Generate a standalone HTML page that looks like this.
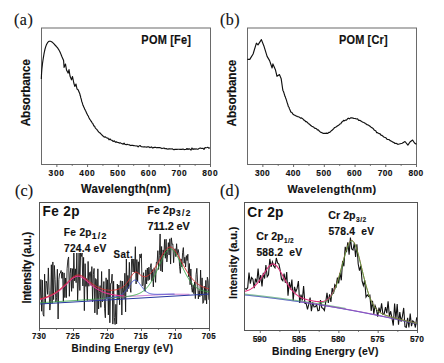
<!DOCTYPE html>
<html><head><meta charset="utf-8"><style>
html,body{margin:0;padding:0;background:#fff;width:444px;height:363px;overflow:hidden}
svg{display:block}

</style></head><body>
<svg width="444" height="363" viewBox="0 0 444 363">
<rect width="444" height="363" fill="#fff"/>
<rect x="41.5" y="28" width="169.0" height="136.5" fill="none" stroke="#6a6a6a" stroke-width="1"/>
<path d="M56.86,164.5 v2.5 M72.23,164.5 v1.3 M87.59,164.5 v2.5 M102.95,164.5 v1.3 M118.32,164.5 v2.5 M133.68,164.5 v1.3 M149.05,164.5 v2.5 M164.41,164.5 v1.3 M179.77,164.5 v2.5 M195.14,164.5 v1.3 M210.50,164.5 v2.5 " stroke="#555" stroke-width="0.9" fill="none"/>
<path d="M41.30,79.00 L41.33,78.40 L41.36,77.62 L41.40,76.70 L41.45,75.67 L41.50,74.56 L41.56,73.41 L41.63,72.24 L41.71,71.09 L41.80,70.00 L41.89,69.04 L41.99,68.06 L42.09,67.07 L42.20,66.07 L42.32,65.06 L42.44,64.05 L42.57,63.03 L42.71,62.02 L42.85,61.00 L43.00,60.00 L43.15,58.98 L43.32,57.94 L43.49,56.87 L43.67,55.81 L43.85,54.75 L44.04,53.71 L44.23,52.71 L44.42,51.74 L44.61,50.84 L44.80,50.00 L45.12,48.73 L45.44,47.59 L45.76,46.55 L46.10,45.61 L46.44,44.77 L46.80,44.00 L47.56,42.70 L48.36,41.75 L49.20,41.20 L50.56,41.24 L52.00,42.00 L52.74,42.59 L53.50,43.35 L54.26,44.18 L55.00,45.00 L55.73,45.77 L56.45,46.55 L57.15,47.35 L57.80,48.20 L58.40,49.08 L58.95,49.99 L59.48,50.95 L60.00,52.00 L60.44,53.00 L60.91,54.15 L61.35,55.30 L61.73,56.30 L63.60,60.60 L64.10,67.40 L65.50,64.00 L66.50,70.00 L68.20,73.10 L69.00,69.50 L70.00,76.00 L71.50,79.80 L72.50,76.50 L73.80,83.00 L74.80,86.40 L76.00,84.00 L77.00,89.00 L78.10,89.70 L79.80,93.80 L79.97,94.45 L80.19,95.63 L80.45,95.97 L80.74,97.66 L81.05,98.45 L81.37,99.64 L81.70,101.44 L82.01,102.00 L82.30,102.89 L82.66,104.22 L83.03,105.39 L83.41,106.05 L83.78,107.18 L84.14,107.61 L84.48,108.62 L84.80,109.37 L85.19,110.04 L85.44,110.58 L85.83,111.30 L86.60,113.13 L86.95,113.79 L87.33,114.47 L87.76,115.39 L88.22,115.84 L88.71,117.14 L89.23,118.19 L89.76,119.33 L90.32,119.85 L90.89,120.98 L91.46,121.47 L92.04,122.88 L92.62,123.28 L93.20,124.37 L93.84,126.04 L94.52,125.96 L95.24,127.79 L95.97,128.57 L96.71,129.29 L97.46,130.41 L98.20,131.29 L98.92,132.27 L99.62,132.66 L100.29,133.27 L100.92,133.93 L101.50,134.40 L102.62,135.76 L103.46,136.22 L104.24,137.26 L105.15,136.83 L106.40,137.67 L107.19,138.10 L108.08,138.17 L109.03,139.80 L110.04,138.95 L111.09,140.03 L112.16,140.40 L113.25,141.48 L114.32,140.79 L115.38,142.08 L116.40,141.88 L117.38,142.35 L118.33,142.46 L119.26,143.09 L120.18,142.77 L121.12,143.29 L122.07,143.61 L123.05,144.24 L124.08,143.16 L125.16,144.54 L126.30,144.58 L127.24,144.33 L128.25,144.76 L129.30,144.72 L130.39,145.56 L131.51,145.33 L132.64,145.40 L133.77,145.59 L134.90,145.79 L136.01,145.98 L137.08,145.93 L138.11,146.97 L139.09,145.91 L140.00,145.52 L141.17,146.68 L142.18,146.75 L143.09,146.95 L143.94,146.79 L144.78,146.81 L145.66,146.96 L146.62,147.16 L147.72,146.78 L149.00,146.89 L149.81,147.65 L150.67,147.30 L151.58,146.92 L152.53,148.01 L153.52,147.64 L154.53,147.33 L155.57,147.25 L156.62,147.80 L157.69,147.57 L158.77,147.61 L159.84,147.64 L160.91,147.98 L161.96,148.57 L163.00,148.20 L164.01,147.98 L165.00,148.70 L166.03,148.60 L167.05,148.92 L168.06,149.12 L169.07,148.79 L170.07,148.88 L171.07,148.99 L172.07,148.75 L173.06,149.36 L174.05,149.64 L175.04,149.35 L176.03,149.28 L177.02,149.33 L178.01,149.21 L179.00,149.24 L180.00,149.38 L181.00,149.26 L182.00,149.38 L183.00,149.03 L184.00,149.59 L185.00,149.48 L186.00,149.50 L187.00,148.53 L188.00,149.48 L189.00,148.60 L190.00,149.29 L191.00,150.08 L192.00,147.95 L193.00,149.46 L194.00,148.71 L195.00,149.32 L196.03,148.79 L197.12,149.22 L198.24,149.10 L199.39,148.29 L200.56,148.03 L201.72,148.53 L202.87,148.24 L204.00,149.35 L205.08,147.67 L206.11,147.80 L207.08,147.54 L207.96,147.28 L208.75,148.24 L209.44,147.99 L210.00,147.93" stroke="#111" stroke-width="1.15" fill="none" stroke-linejoin="round"/>
<rect x="247.5" y="28" width="169.0" height="136.5" fill="none" stroke="#6a6a6a" stroke-width="1"/>
<path d="M262.86,164.5 v2.5 M278.23,164.5 v1.3 M293.59,164.5 v2.5 M308.95,164.5 v1.3 M324.32,164.5 v2.5 M339.68,164.5 v1.3 M355.05,164.5 v2.5 M370.41,164.5 v1.3 M385.77,164.5 v2.5 M401.14,164.5 v1.3 M416.50,164.5 v2.5 " stroke="#555" stroke-width="0.9" fill="none"/>
<path d="M247.30,59.40 L249.80,59.40 L253.10,54.00 L256.40,43.20 L258.00,44.90 L261.40,39.60 L263.80,45.70 L267.10,56.40 L269.60,60.60 L272.10,68.00 L272.90,63.90 L275.40,69.70 L277.00,76.30 L279.50,74.60 L281.20,78.80 L282.80,90.01 L283.06,90.75 L283.47,91.45 L284.10,93.41 L284.35,94.31 L284.63,95.01 L284.94,96.31 L285.28,96.60 L285.62,97.96 L285.98,98.83 L286.35,99.91 L286.71,101.17 L287.06,102.32 L287.40,103.33 L287.81,104.49 L288.20,106.13 L288.60,106.83 L288.99,107.18 L289.40,108.75 L289.81,109.48 L290.24,110.42 L290.70,111.79 L291.44,112.46 L292.20,112.86 L293.00,114.33 L293.89,114.85 L294.90,115.25 L295.70,115.73 L296.56,116.13 L297.47,116.57 L298.43,116.70 L299.42,117.16 L300.45,118.09 L301.50,117.86 L302.27,118.36 L303.08,119.12 L303.92,120.19 L304.78,120.35 L305.65,121.73 L306.52,121.65 L307.38,122.46 L308.22,123.46 L309.03,123.86 L309.80,124.51 L310.83,125.55 L311.81,126.26 L312.75,126.65 L313.66,127.06 L314.56,128.08 L315.47,128.34 L316.40,128.73 L317.35,129.83 L318.31,129.94 L319.27,131.02 L320.23,131.91 L321.17,132.38 L322.10,132.75 L323.00,133.41 L324.21,133.39 L325.38,133.40 L326.53,133.10 L327.66,133.46 L328.80,132.44 L329.62,132.49 L330.45,131.67 L331.27,130.80 L332.09,130.34 L332.90,129.47 L333.71,128.70 L334.50,127.59 L335.42,127.29 L336.35,126.82 L337.27,125.98 L338.16,125.45 L339.01,124.95 L339.80,124.02 L340.83,123.69 L341.74,121.93 L342.62,121.66 L343.60,120.34 L344.48,120.83 L345.42,120.09 L346.38,120.08 L347.35,119.03 L348.30,118.19 L349.45,118.86 L350.59,117.85 L351.75,117.78 L353.00,118.15 L354.08,118.54 L355.21,118.45 L356.37,119.00 L357.54,118.78 L358.70,120.32 L359.65,120.22 L360.60,120.78 L361.56,121.48 L362.51,121.92 L363.46,122.51 L364.40,122.72 L365.32,123.46 L366.20,124.09 L367.08,124.73 L367.99,124.88 L368.95,125.52 L370.00,126.30 L370.76,126.93 L371.55,127.46 L372.39,128.01 L373.24,128.66 L374.11,129.89 L374.99,130.39 L375.87,131.04 L376.74,132.79 L377.60,132.66 L378.44,133.27 L379.29,133.67 L380.13,133.90 L380.98,135.12 L381.82,135.32 L382.67,135.91 L383.51,136.74 L384.36,137.28 L385.20,137.57 L386.16,138.10 L387.15,139.33 L388.14,139.47 L389.12,139.57 L390.10,140.66 L391.04,141.01 L391.95,141.47 L392.80,142.10 L393.91,142.50 L395.02,143.51 L396.08,143.39 L397.02,143.76 L397.81,144.32 L398.40,144.20 L402.20,143.20 L405.00,141.50 L407.90,145.10 L410.00,142.00 L412.60,140.00 L414.50,143.00 L416.40,144.30" stroke="#111" stroke-width="1.15" fill="none" stroke-linejoin="round"/>
<path d="M40.10,299.89 L40.85,279.52 L41.60,311.22 L42.35,280.13 L43.10,314.23 L43.85,316.23 L44.60,274.14 L45.35,303.34 L46.10,281.08 L46.85,283.59 L47.60,294.33 L48.35,267.93 L49.10,290.59 L49.85,310.05 L50.60,301.23 L51.35,264.76 L52.10,303.42 L52.85,261.96 L53.60,299.59 L54.35,265.44 L55.10,279.35 L55.85,302.03 L56.60,297.72 L57.35,269.21 L58.10,319.01 L58.85,279.51 L59.60,273.53 L60.35,273.11 L61.10,270.45 L61.85,278.34 L62.60,271.98 L63.35,301.33 L64.10,272.90 L64.85,297.60 L65.60,277.96 L66.35,297.67 L67.10,268.82 L67.85,259.85 L68.60,256.98 L69.35,296.31 L70.10,273.54 L70.85,268.12 L71.60,291.37 L72.35,268.63 L73.10,288.29 L73.85,253.00 L74.60,280.88 L75.35,268.85 L76.10,282.66 L76.85,253.00 L77.60,300.54 L78.35,281.99 L79.10,253.00 L79.85,290.48 L80.60,253.00 L81.35,256.50 L82.10,253.00 L82.85,285.96 L83.60,257.34 L84.35,310.64 L85.10,263.67 L85.85,286.41 L86.60,278.54 L87.35,300.53 L88.10,261.42 L88.85,286.28 L89.60,272.46 L90.35,271.80 L91.10,285.47 L91.85,266.62 L92.60,301.76 L93.35,274.41 L94.10,268.45 L94.85,312.91 L95.60,278.52 L96.35,279.69 L97.10,314.67 L97.85,268.83 L98.60,308.93 L99.35,292.52 L100.10,285.63 L100.85,307.35 L101.60,271.50 L102.35,301.82 L103.10,299.12 L103.85,281.49 L104.60,308.75 L105.35,317.79 L106.10,277.83 L106.85,298.90 L107.60,279.79 L108.35,314.91 L109.10,269.07 L109.85,322.82 L110.60,283.44 L111.35,283.25 L112.10,274.14 L112.85,324.09 L113.60,281.19 L114.35,317.51 L115.10,324.50 L115.85,304.32 L116.60,323.88 L117.35,284.00 L118.10,299.47 L118.85,285.03 L119.60,304.76 L120.35,280.93 L121.10,280.97 L121.85,315.02 L122.60,281.06 L123.35,290.00 L124.10,298.84 L124.85,273.23 L125.60,311.86 L126.35,259.00 L127.10,291.72 L127.85,275.46 L128.60,288.57 L129.35,262.29 L130.10,287.30 L130.85,292.37 L131.60,259.00 L132.35,259.00 L133.10,272.04 L133.85,259.00 L134.60,272.32 L135.35,246.68 L136.10,283.94 L136.85,259.55 L137.60,281.39 L138.35,261.77 L139.10,274.10 L139.85,254.14 L140.60,257.91 L141.35,253.78 L142.10,285.76 L142.85,285.29 L143.60,272.67 L144.35,289.23 L145.10,291.35 L145.85,269.88 L146.60,283.98 L147.35,268.00 L148.10,280.58 L148.85,267.25 L149.60,279.63 L150.35,267.48 L151.10,263.64 L151.85,280.80 L152.60,269.58 L153.35,286.95 L154.10,267.85 L154.85,269.83 L155.60,282.33 L156.35,262.26 L157.10,262.91 L157.85,250.67 L158.60,269.48 L159.35,255.78 L160.10,233.98 L160.85,270.92 L161.60,246.49 L162.35,271.95 L163.10,249.91 L163.85,255.28 L164.60,239.45 L165.35,258.27 L166.10,239.22 L166.85,261.96 L167.60,254.40 L168.35,242.62 L169.10,255.01 L169.85,238.81 L170.60,264.05 L171.35,237.85 L172.10,244.32 L172.85,243.98 L173.60,262.66 L174.35,250.34 L175.10,248.69 L175.85,256.70 L176.60,243.76 L177.35,255.00 L178.10,249.45 L178.85,253.04 L179.60,266.75 L180.35,273.36 L181.10,258.94 L181.85,266.80 L182.60,252.53 L183.35,247.58 L184.10,263.25 L184.85,257.25 L185.60,266.99 L186.35,255.62 L187.10,260.56 L187.85,254.23 L188.60,276.65 L189.35,263.51 L190.10,284.74 L190.85,268.98 L191.60,287.62 L192.35,292.27 L193.10,284.97 L193.85,293.75 L194.60,282.08 L195.35,298.60 L196.10,274.43 L196.85,268.32 L197.60,282.08 L198.35,299.00 L199.10,290.64 L199.85,296.70 L200.60,270.05 L201.35,295.51 L202.10,277.89 L202.85,303.35 L203.60,302.34 L204.35,286.29 L205.10,300.30 L205.85,280.40 L206.60,303.90 L207.35,277.22 L208.10,280.57 L208.85,299.80" stroke="#151515" stroke-width="0.9" fill="none" stroke-linejoin="miter"/>
<path d="M88.50,300.82 L89.00,300.77 L89.50,300.72 L90.00,300.66 L90.50,300.61 L91.00,300.55 L91.50,300.49 L92.00,300.43 L92.50,300.37 L93.00,300.31 L93.50,300.24 L94.00,300.18 L94.50,300.11 L95.00,300.04 L95.50,299.97 L96.00,299.90 L96.50,299.82 L97.00,299.75 L97.50,299.67 L98.00,299.60 L98.50,299.52 L99.00,299.45 L99.50,299.37 L100.00,299.29 L100.50,299.21 L101.00,299.14 L101.50,299.06 L102.00,298.98 L102.50,298.91 L103.00,298.83 L103.50,298.76 L104.00,298.69 L104.50,298.61 L105.00,298.54 L105.50,298.47 L106.00,298.41 L106.50,298.34 L107.00,298.28 L107.50,298.21 L108.00,298.15 L108.50,298.09 L109.00,298.03 L109.50,297.97 L110.00,297.92 L110.50,297.86 L111.00,297.81 L111.50,297.76 L112.00,297.71 L112.50,297.66 L113.00,297.61 L113.50,297.57 L114.00,297.52 L114.50,297.48 L115.00,297.43 L115.50,297.39 L116.00,297.35 L116.50,297.31 L117.00,297.27 L117.50,297.23 L118.00,297.19 L118.50,297.15 L119.00,297.12 L119.50,297.08 L120.00,297.04 L120.50,297.01 L121.00,296.97 L121.50,296.94 L122.00,296.91 L122.50,296.87 L123.00,296.84 L123.50,296.80 L124.00,296.77 L124.50,296.74 L125.00,296.71 L125.50,296.67 L126.00,296.64 L126.50,296.61 L127.00,296.58 L127.50,296.55 L128.00,296.52 L128.50,296.49 L129.00,296.46 L129.50,296.42 L130.00,296.39 L130.50,296.36 L131.00,296.33 L131.50,296.30 L132.00,296.27 L132.50,296.24 L133.00,296.21 L133.50,296.18 L134.00,296.15 L134.50,296.12 L135.00,296.09 L135.50,296.06 L136.00,296.03 L136.50,296.00 L137.00,295.98 L137.50,295.95 L138.00,295.92 L138.50,295.89 L139.00,295.86 L139.50,295.83 L140.00,295.80 L140.50,295.77 L141.00,295.74 L141.50,295.71 L142.00,295.68 L142.50,295.65 L143.00,295.63 L143.50,295.60 L144.00,295.57 L144.50,295.54 L145.00,295.51 L145.50,295.48 L146.00,295.45 L146.50,295.43 L147.00,295.40 L147.50,295.37 L148.00,295.34 L148.50,295.31 L149.00,295.28 L149.50,295.26 L150.00,295.23 L150.50,295.20 L151.00,295.17 L151.50,295.15 L152.00,295.12 L152.50,295.09 L153.00,295.07 L153.50,295.04 L154.00,295.01 L154.50,294.99 L155.00,294.96 L155.50,294.93 L156.00,294.91 L156.50,294.88 L157.00,294.86 L157.50,294.83 L158.00,294.81 L158.50,294.78 L159.00,294.76 L159.50,294.73 L160.00,294.71 L160.50,294.69 L161.00,294.66 L161.50,294.64 L162.00,294.62 L162.50,294.60 L163.00,294.57 L163.50,294.55 L164.00,294.53 L164.50,294.51 L165.00,294.49 L165.50,294.47 L166.00,294.45 L166.50,294.44 L167.00,294.42 L167.50,294.40 L168.00,294.39 L168.50,294.37 L169.00,294.36 L169.50,294.34 L170.00,294.33 L170.50,294.32 L171.00,294.31 L171.50,294.29 L172.00,294.28 L172.50,294.28 L173.00,294.27 L173.50,294.26 L174.00,294.25 L174.50,294.25 L175.00,294.24 L175.50,294.24 L176.00,294.23 L176.50,294.23 L177.00,294.23 L177.50,294.23 L178.00,294.23 L178.50,294.23 L179.00,294.23 L179.50,294.23 L180.00,294.24 L180.50,294.24 L181.00,294.24 L181.50,294.25 L182.00,294.25 L182.50,294.26 L183.00,294.27 L183.50,294.27 L184.00,294.28 L184.50,294.28 L185.00,294.29 L185.50,294.30 L186.00,294.30 L186.50,294.31 L187.00,294.32 L187.50,294.32 L188.00,294.33 L188.50,294.33 L189.00,294.34 L189.50,294.34" stroke="#b848c0" stroke-width="0.8" fill="none"/>
<path d="M39.50,304.00 L209.50,294.00" stroke="#2838a0" stroke-width="1" fill="none"/>
<path d="M39.50,302.80 L40.00,302.77 L40.50,302.74 L41.00,302.71 L41.50,302.67 L42.00,302.64 L42.50,302.61 L43.00,302.58 L43.50,302.55 L44.00,302.52 L44.50,302.49 L45.00,302.46 L45.50,302.43 L46.00,302.39 L46.50,302.36 L47.00,302.33 L47.50,302.30 L48.00,302.27 L48.50,302.24 L49.00,302.21 L49.50,302.18 L50.00,302.14 L50.50,302.11 L51.00,302.08 L51.50,302.05 L52.00,302.02 L52.50,301.99 L53.00,301.96 L53.50,301.92 L54.00,301.89 L54.50,301.86 L55.00,301.83 L55.50,301.80 L56.00,301.77 L56.50,301.73 L57.00,301.70 L57.50,301.67 L58.00,301.64 L58.50,301.61 L59.00,301.58 L59.50,301.54 L60.00,301.51 L60.50,301.48 L61.00,301.45 L61.50,301.42 L62.00,301.38 L62.50,301.35 L63.00,301.32 L63.50,301.29 L64.00,301.26 L64.50,301.22 L65.00,301.19 L65.50,301.16 L66.00,301.13 L66.50,301.09 L67.00,301.06 L67.50,301.03 L68.00,301.00 L68.50,300.96 L69.00,300.93 L69.50,300.90 L70.00,300.87 L70.50,300.83 L71.00,300.80 L71.50,300.77 L72.00,300.74 L72.50,300.70 L73.00,300.67 L73.50,300.64 L74.00,300.60 L74.50,300.57 L75.00,300.54 L75.50,300.50 L76.00,300.47 L76.50,300.44 L77.00,300.41 L77.50,300.37 L78.00,300.34 L78.50,300.30 L79.00,300.27 L79.50,300.24 L80.00,300.20 L80.50,300.17 L81.00,300.14 L81.50,300.10 L82.00,300.07 L82.50,300.03 L83.00,300.00 L83.50,299.97 L84.00,299.93 L84.50,299.90 L85.00,299.86 L85.50,299.83 L86.00,299.79 L86.50,299.76 L87.00,299.73 L87.50,299.69 L88.00,299.66 L88.50,299.62 L89.00,299.59 L89.50,299.55 L90.00,299.52 L90.50,299.48 L91.00,299.44 L91.50,299.41 L92.00,299.37 L92.50,299.34 L93.00,299.30 L93.50,299.27 L94.00,299.23 L94.50,299.19 L95.00,299.16 L95.50,299.12 L96.00,299.09 L96.50,299.05 L97.00,299.01 L97.50,298.98 L98.00,298.94 L98.50,298.90 L99.00,298.87 L99.50,298.83 L100.00,298.79 L100.50,298.75 L101.00,298.72 L101.50,298.68 L102.00,298.64 L102.50,298.60 L103.00,298.57 L103.50,298.53 L104.00,298.49 L104.50,298.45 L105.00,298.41 L105.50,298.37 L106.00,298.34 L106.50,298.30 L107.00,298.26 L107.50,298.22 L108.00,298.18 L108.50,298.14 L109.00,298.10 L109.50,298.06 L110.00,298.02 L110.50,297.98 L111.00,297.94 L111.50,297.90 L112.00,297.86 L112.50,297.82 L113.00,297.77 L113.50,297.73 L114.00,297.69 L114.50,297.65 L115.00,297.61 L115.50,297.56 L116.00,297.52 L116.50,297.48 L117.00,297.43 L117.50,297.39 L118.00,297.34 L118.50,297.30 L119.00,297.25 L119.50,297.21 L120.00,297.16 L120.50,297.11 L121.00,297.07 L121.50,297.02 L122.00,296.97 L122.50,296.92 L123.00,296.87 L123.50,296.82 L124.00,296.76 L124.50,296.71 L125.00,296.65 L125.50,296.60 L126.00,296.54 L126.50,296.48 L127.00,296.42 L127.50,296.35 L128.00,296.29 L128.50,296.22 L129.00,296.15 L129.50,296.07 L130.00,295.99 L130.50,295.91 L131.00,295.83 L131.50,295.74 L132.00,295.64 L132.50,295.55 L133.00,295.44 L133.50,295.33 L134.00,295.21 L134.50,295.09 L135.00,294.96 L135.50,294.82 L136.00,294.67 L136.50,294.51 L137.00,294.34 L137.50,294.16 L138.00,293.97 L138.50,293.77 L139.00,293.55 L139.50,293.32 L140.00,293.08 L140.50,292.82 L141.00,292.54 L141.50,292.24 L142.00,291.93 L142.50,291.60 L143.00,291.24 L143.50,290.87 L144.00,290.47 L144.50,290.05 L145.00,289.60 L145.50,289.13 L146.00,288.63 L146.50,288.11 L147.00,287.56 L147.50,286.98 L148.00,286.37 L148.50,285.74 L149.00,285.07 L149.50,284.38 L150.00,283.65 L150.50,282.89 L151.00,282.11 L151.50,281.29 L152.00,280.45 L152.50,279.57 L153.00,278.67 L153.50,277.74 L154.00,276.79 L154.50,275.80 L155.00,274.80 L155.50,273.77 L156.00,272.72 L156.50,271.65 L157.00,270.57 L157.50,269.47 L158.00,268.36 L158.50,267.25 L159.00,266.12 L159.50,265.00 L160.00,263.87 L160.50,262.76 L161.00,261.65 L161.50,260.55 L162.00,259.48 L162.50,258.42 L163.00,257.40 L163.50,256.41 L164.00,255.46 L164.50,254.55 L165.00,253.69 L165.50,252.88 L166.00,252.14 L166.50,251.46 L167.00,250.85 L167.50,250.32 L168.00,249.87 L168.50,249.49 L169.00,249.21 L169.50,249.01 L170.00,248.90 L170.50,248.88 L171.00,248.95 L171.50,249.11 L172.00,249.36 L172.50,249.69 L173.00,250.11 L173.50,250.60 L174.00,251.17 L174.50,251.80 L175.00,252.50 L175.50,253.26 L176.00,254.08 L176.50,254.94 L177.00,255.84 L177.50,256.79 L178.00,257.76 L178.50,258.76 L179.00,259.79 L179.50,260.83 L180.00,261.89 L180.50,262.95 L181.00,264.02 L181.50,265.09 L182.00,266.16 L182.50,267.22 L183.00,268.27 L183.50,269.32 L184.00,270.34 L184.50,271.35 L185.00,272.34 L185.50,273.31 L186.00,274.26 L186.50,275.19 L187.00,276.09 L187.50,276.96 L188.00,277.80 L188.50,278.62 L189.00,279.41 L189.50,280.16 L190.00,280.89 L190.50,281.59 L191.00,282.26 L191.50,282.90 L192.00,283.51 L192.50,284.09 L193.00,284.64 L193.50,285.16 L194.00,285.66 L194.50,286.13 L195.00,286.57 L195.50,286.98 L196.00,287.38 L196.50,287.75 L197.00,288.09 L197.50,288.41 L198.00,288.72 L198.50,289.00 L199.00,289.26 L199.50,289.51 L200.00,289.73 L200.50,289.94 L201.00,290.14 L201.50,290.32 L202.00,290.49 L202.50,290.64 L203.00,290.78 L203.50,290.91 L204.00,291.03 L204.50,291.14 L205.00,291.24 L205.50,291.33 L206.00,291.42 L206.50,291.49 L207.00,291.56 L207.50,291.63 L208.00,291.68 L208.50,291.73 L209.00,291.78 L209.50,291.82" stroke="#30a040" stroke-width="0.9" fill="none"/>
<path d="M105.50,298.18 L106.00,298.11 L106.50,298.03 L107.00,297.95 L107.50,297.88 L108.00,297.81 L108.50,297.73 L109.00,297.66 L109.50,297.59 L110.00,297.52 L110.50,297.45 L111.00,297.38 L111.50,297.30 L112.00,297.23 L112.50,297.16 L113.00,297.08 L113.50,297.01 L114.00,296.93 L114.50,296.85 L115.00,296.76 L115.50,296.67 L116.00,296.57 L116.50,296.47 L117.00,296.35 L117.50,296.23 L118.00,296.09 L118.50,295.94 L119.00,295.77 L119.50,295.59 L120.00,295.38 L120.50,295.16 L121.00,294.90 L121.50,294.62 L122.00,294.31 L122.50,293.97 L123.00,293.59 L123.50,293.18 L124.00,292.73 L124.50,292.24 L125.00,291.71 L125.50,291.15 L126.00,290.55 L126.50,289.91 L127.00,289.24 L127.50,288.55 L128.00,287.83 L128.50,287.09 L129.00,286.34 L129.50,285.59 L130.00,284.84 L130.50,284.11 L131.00,283.40 L131.50,282.73 L132.00,282.11 L132.50,281.55 L133.00,281.07 L133.50,280.67 L134.00,280.37 L134.50,280.18 L135.00,280.09 L135.50,280.12 L136.00,280.26 L136.50,280.50 L137.00,280.83 L137.50,281.26 L138.00,281.75 L138.50,282.31 L139.00,282.92 L139.50,283.57 L140.00,284.25 L140.50,284.93 L141.00,285.63 L141.50,286.32 L142.00,286.99 L142.50,287.65 L143.00,288.29 L143.50,288.90 L144.00,289.47 L144.50,290.01 L145.00,290.52 L145.50,290.98 L146.00,291.41 L146.50,291.80 L147.00,292.15 L147.50,292.47 L148.00,292.75 L148.50,293.00 L149.00,293.21 L149.50,293.40 L150.00,293.57 L150.50,293.71 L151.00,293.83 L151.50,293.93 L152.00,294.02 L152.50,294.09 L153.00,294.15 L153.50,294.20 L154.00,294.23 L154.50,294.26 L155.00,294.29 L155.50,294.30 L156.00,294.32 L156.50,294.32 L157.00,294.33 L157.50,294.33 L158.00,294.33 L158.50,294.32 L159.00,294.32 L159.50,294.31 L160.00,294.31 L160.50,294.30 L161.00,294.29 L161.50,294.28 L162.00,294.27 L162.50,294.26 L163.00,294.25 L163.50,294.24 L164.00,294.23 L164.50,294.22 L165.00,294.21 L165.50,294.20 L166.00,294.19 L166.50,294.18 L167.00,294.17 L167.50,294.16 L168.00,294.15 L168.50,294.14 L169.00,294.13 L169.50,294.13 L170.00,294.12 L170.50,294.11 L171.00,294.11 L171.50,294.10 L172.00,294.09 L172.50,294.09 L173.00,294.09 L173.50,294.08 L174.00,294.08 L174.50,294.08" stroke="#4050d0" stroke-width="0.9" fill="none"/>
<path d="M39.50,299.66 L40.00,299.53 L40.50,299.40 L41.00,299.27 L41.50,299.13 L42.00,298.99 L42.50,298.84 L43.00,298.69 L43.50,298.54 L44.00,298.38 L44.50,298.22 L45.00,298.05 L45.50,297.88 L46.00,297.70 L46.50,297.52 L47.00,297.33 L47.50,297.14 L48.00,296.94 L48.50,296.74 L49.00,296.53 L49.50,296.31 L50.00,296.09 L50.50,295.86 L51.00,295.63 L51.50,295.38 L52.00,295.13 L52.50,294.88 L53.00,294.61 L53.50,294.34 L54.00,294.05 L54.50,293.76 L55.00,293.47 L55.50,293.16 L56.00,292.84 L56.50,292.52 L57.00,292.18 L57.50,291.84 L58.00,291.48 L58.50,291.12 L59.00,290.75 L59.50,290.36 L60.00,289.97 L60.50,289.57 L61.00,289.16 L61.50,288.73 L62.00,288.30 L62.50,287.86 L63.00,287.41 L63.50,286.96 L64.00,286.49 L64.50,286.02 L65.00,285.54 L65.50,285.06 L66.00,284.57 L66.50,284.08 L67.00,283.58 L67.50,283.09 L68.00,282.60 L68.50,282.11 L69.00,281.62 L69.50,281.14 L70.00,280.67 L70.50,280.21 L71.00,279.76 L71.50,279.33 L72.00,278.92 L72.50,278.53 L73.00,278.16 L73.50,277.82 L74.00,277.51 L74.50,277.23 L75.00,276.98 L75.50,276.76 L76.00,276.58 L76.50,276.44 L77.00,276.33 L77.50,276.27 L78.00,276.24 L78.50,276.26 L79.00,276.31 L79.50,276.40 L80.00,276.53 L80.50,276.69 L81.00,276.89 L81.50,277.12 L82.00,277.38 L82.50,277.67 L83.00,277.98 L83.50,278.32 L84.00,278.68 L84.50,279.05 L85.00,279.44 L85.50,279.85 L86.00,280.26 L86.50,280.68 L87.00,281.11 L87.50,281.54 L88.00,281.98 L88.50,282.41 L89.00,282.85 L89.50,283.28 L90.00,283.71 L90.50,284.13 L91.00,284.55 L91.50,284.96 L92.00,285.37 L92.50,285.76 L93.00,286.15 L93.50,286.53 L94.00,286.90 L94.50,287.26 L95.00,287.61 L95.50,287.96 L96.00,288.29 L96.50,288.61 L97.00,288.92 L97.50,289.23 L98.00,289.52 L98.50,289.80 L99.00,290.08 L99.50,290.34 L100.00,290.60 L100.50,290.84 L101.00,291.08 L101.50,291.31 L102.00,291.53 L102.50,291.75 L103.00,291.95 L103.50,292.15 L104.00,292.34 L104.50,292.52 L105.00,292.70 L105.50,292.87 L106.00,293.03 L106.50,293.18 L107.00,293.33 L107.50,293.48 L108.00,293.62 L108.50,293.75 L109.00,293.87 L109.50,294.00 L110.00,294.11 L110.50,294.22 L111.00,294.33 L111.50,294.43 L112.00,294.53 L112.50,294.63 L113.00,294.72 L113.50,294.80 L114.00,294.89 L114.50,294.96 L115.00,295.04 L115.50,295.11 L116.00,295.18 L116.50,295.25 L117.00,295.31 L117.50,295.37 L118.00,295.43 L118.50,295.48 L119.00,295.53 L119.50,295.58 L120.00,295.63 L120.50,295.67 L121.00,295.72 L121.50,295.76 L122.00,295.79 L122.50,295.83 L123.00,295.87 L123.50,295.90 L124.00,295.93 L124.50,295.96" stroke="#e0308a" stroke-width="1.1" fill="none"/>
<path d="M39.50,299.09 L40.00,298.95 L40.50,298.82 L41.00,298.68 L41.50,298.53 L42.00,298.39 L42.50,298.24 L43.00,298.08 L43.50,297.92 L44.00,297.76 L44.50,297.59 L45.00,297.42 L45.50,297.24 L46.00,297.06 L46.50,296.87 L47.00,296.68 L47.50,296.48 L48.00,296.28 L48.50,296.07 L49.00,295.85 L49.50,295.63 L50.00,295.40 L50.50,295.17 L51.00,294.93 L51.50,294.68 L52.00,294.42 L52.50,294.15 L53.00,293.88 L53.50,293.60 L54.00,293.31 L54.50,293.02 L55.00,292.71 L55.50,292.40 L56.00,292.07 L56.50,291.74 L57.00,291.40 L57.50,291.04 L58.00,290.68 L58.50,290.31 L59.00,289.93 L59.50,289.54 L60.00,289.14 L60.50,288.73 L61.00,288.30 L61.50,287.87 L62.00,287.43 L62.50,286.98 L63.00,286.53 L63.50,286.06 L64.00,285.59 L64.50,285.10 L65.00,284.62 L65.50,284.12 L66.00,283.62 L66.50,283.12 L67.00,282.62 L67.50,282.11 L68.00,281.61 L68.50,281.11 L69.00,280.61 L69.50,280.12 L70.00,279.64 L70.50,279.17 L71.00,278.71 L71.50,278.27 L72.00,277.84 L72.50,277.44 L73.00,277.06 L73.50,276.70 L74.00,276.38 L74.50,276.08 L75.00,275.81 L75.50,275.58 L76.00,275.39 L76.50,275.23 L77.00,275.11 L77.50,275.03 L78.00,274.99 L78.50,274.99 L79.00,275.03 L79.50,275.10 L80.00,275.21 L80.50,275.36 L81.00,275.54 L81.50,275.75 L82.00,276.00 L82.50,276.26 L83.00,276.56 L83.50,276.88 L84.00,277.21 L84.50,277.57 L85.00,277.94 L85.50,278.32 L86.00,278.71 L86.50,279.11 L87.00,279.51 L87.50,279.92 L88.00,280.33 L88.50,280.74 L89.00,281.15 L89.50,281.56 L90.00,281.96 L90.50,282.36 L91.00,282.75 L91.50,283.13 L92.00,283.51 L92.50,283.87 L93.00,284.23 L93.50,284.58 L94.00,284.92 L94.50,285.24 L95.00,285.56 L95.50,285.87 L96.00,286.16 L96.50,286.45 L97.00,286.72 L97.50,286.99 L98.00,287.24 L98.50,287.48 L99.00,287.71 L99.50,287.93 L100.00,288.14 L100.50,288.34 L101.00,288.53 L101.50,288.71 L102.00,288.88 L102.50,289.03 L103.00,289.18 L103.50,289.32 L104.00,289.45 L104.50,289.57 L105.00,289.68 L105.50,289.78 L106.00,289.88 L106.50,289.96 L107.00,290.04 L107.50,290.10 L108.00,290.16 L108.50,290.21 L109.00,290.24 L109.50,290.27 L110.00,290.30 L110.50,290.31 L111.00,290.31 L111.50,290.30 L112.00,290.29 L112.50,290.26 L113.00,290.22 L113.50,290.18 L114.00,290.12 L114.50,290.06 L115.00,289.98 L115.50,289.89 L116.00,289.79 L116.50,289.67 L117.00,289.55 L117.50,289.41 L118.00,289.25 L118.50,289.08 L119.00,288.90 L119.50,288.69 L120.00,288.47 L120.50,288.23 L121.00,287.97 L121.50,287.69 L122.00,287.39 L122.50,287.06 L123.00,286.70 L123.50,286.32 L124.00,285.91 L124.50,285.46 L125.00,284.99 L125.50,284.48 L126.00,283.93 L126.50,283.35 L127.00,282.73 L127.50,282.08 L128.00,281.39 L128.50,280.67 L129.00,279.92 L129.50,279.14 L130.00,278.35 L130.50,277.55 L131.00,276.75 L131.50,275.97 L132.00,275.22 L132.50,274.52 L133.00,273.88 L133.50,273.33 L134.00,272.87 L134.50,272.52 L135.00,272.28 L135.50,272.16 L136.00,272.15 L136.50,272.25 L137.00,272.44 L137.50,272.71 L138.00,273.04 L138.50,273.41 L139.00,273.81 L139.50,274.22 L140.00,274.62 L140.50,275.01 L141.00,275.37 L141.50,275.70 L142.00,275.98 L142.50,276.22 L143.00,276.42 L143.50,276.56 L144.00,276.65 L144.50,276.70 L145.00,276.69 L145.50,276.64 L146.00,276.53 L146.50,276.38 L147.00,276.18 L147.50,275.94 L148.00,275.65 L148.50,275.32 L149.00,274.95 L149.50,274.54 L150.00,274.10 L150.50,273.61 L151.00,273.09 L151.50,272.53 L152.00,271.94 L152.50,271.32 L153.00,270.67 L153.50,269.99 L154.00,269.28 L154.50,268.54 L155.00,267.77 L155.50,266.99 L156.00,266.18 L156.50,265.35 L157.00,264.50 L157.50,263.64 L158.00,262.76 L158.50,261.88 L159.00,260.98 L159.50,260.08 L160.00,259.17 L160.50,258.27 L161.00,257.37 L161.50,256.48 L162.00,255.61 L162.50,254.75 L163.00,253.91 L163.50,253.10 L164.00,252.31 L164.50,251.57 L165.00,250.86 L165.50,250.21 L166.00,249.60 L166.50,249.04 L167.00,248.55 L167.50,248.12 L168.00,247.76 L168.50,247.47 L169.00,247.26 L169.50,247.11 L170.00,247.05 L170.50,247.07 L171.00,247.16 L171.50,247.33 L172.00,247.57 L172.50,247.89 L173.00,248.28 L173.50,248.74 L174.00,249.26 L174.50,249.84 L175.00,250.48 L175.50,251.16 L176.00,251.90 L176.50,252.67 L177.00,253.49 L177.50,254.33 L178.00,255.20 L178.50,256.09 L179.00,257.00 L179.50,257.93 L180.00,258.87 L180.50,259.81 L181.00,260.76 L181.50,261.71 L182.00,262.65 L182.50,263.59 L183.00,264.53 L183.50,265.45 L184.00,266.37 L184.50,267.27 L185.00,268.15 L185.50,269.02 L186.00,269.88 L186.50,270.71 L187.00,271.53 L187.50,272.32 L188.00,273.10 L188.50,273.86 L189.00,274.59 L189.50,275.31 L190.00,276.00 L190.50,276.67 L191.00,277.31 L191.50,277.94 L192.00,278.54 L192.50,279.12 L193.00,279.68 L193.50,280.22 L194.00,280.74 L194.50,281.24 L195.00,281.71 L195.50,282.17 L196.00,282.60 L196.50,283.02 L197.00,283.42 L197.50,283.80 L198.00,284.16 L198.50,284.51 L199.00,284.84 L199.50,285.15 L200.00,285.45 L200.50,285.73 L201.00,286.00 L201.50,286.26 L202.00,286.50 L202.50,286.73 L203.00,286.94 L203.50,287.15 L204.00,287.34 L204.50,287.53 L205.00,287.70 L205.50,287.86 L206.00,288.02 L206.50,288.16 L207.00,288.30 L207.50,288.43 L208.00,288.56 L208.50,288.67 L209.00,288.78 L209.50,288.88" stroke="#d83030" stroke-width="1" fill="none"/>
<rect x="39.5" y="202.5" width="170.0" height="126.0" fill="none" stroke="#555" stroke-width="1"/>
<path d="M39.50,328.5 v2.5 M56.50,328.5 v1.3 M73.50,328.5 v2.5 M90.50,328.5 v1.3 M107.50,328.5 v2.5 M124.50,328.5 v1.3 M141.50,328.5 v2.5 M158.50,328.5 v1.3 M175.50,328.5 v2.5 M192.50,328.5 v1.3 M209.50,328.5 v2.5 " stroke="#555" stroke-width="0.9" fill="none"/>
<path d="M245.10,288.55 L246.40,289.22 L247.70,287.67 L249.00,272.66 L250.30,283.60 L251.60,277.54 L252.90,279.23 L254.20,288.10 L255.50,278.68 L256.80,282.49 L258.10,268.48 L259.40,282.83 L260.70,275.15 L262.00,286.36 L263.30,272.82 L264.60,278.51 L265.90,265.03 L267.20,276.71 L268.50,274.80 L269.80,258.93 L271.10,266.88 L272.40,261.78 L273.70,266.10 L275.00,267.83 L276.30,258.00 L277.60,262.92 L278.90,264.01 L280.20,270.35 L281.50,279.19 L282.80,280.70 L284.10,273.67 L285.40,282.80 L286.70,272.07 L288.00,295.82 L289.30,282.13 L290.60,289.42 L291.90,279.50 L293.20,300.41 L294.50,286.78 L295.80,291.66 L297.10,288.45 L298.40,281.04 L299.70,303.02 L301.00,294.63 L302.30,300.51 L303.60,286.01 L304.90,303.38 L306.20,303.62 L307.50,309.40 L308.80,304.19 L310.10,297.57 L311.40,311.27 L312.70,302.42 L314.00,306.87 L315.30,306.74 L316.60,304.91 L317.90,310.84 L319.20,310.31 L320.50,299.98 L321.80,307.60 L323.10,308.46 L324.40,310.46 L325.70,302.45 L327.00,292.72 L328.30,302.89 L329.60,294.33 L330.90,301.89 L332.20,288.00 L333.50,293.67 L334.80,284.67 L336.10,286.68 L337.40,277.66 L338.70,283.39 L340.00,273.14 L341.30,280.31 L342.60,260.97 L343.90,266.27 L345.20,246.80 L346.50,252.17 L347.80,242.23 L349.10,254.62 L350.40,237.50 L351.70,248.90 L353.00,249.99 L354.30,243.00 L355.60,257.03 L356.90,244.35 L358.20,264.00 L359.50,270.54 L360.80,265.75 L362.10,281.26 L363.40,285.61 L364.70,280.22 L366.00,297.00 L367.30,294.94 L368.60,296.41 L369.90,295.35 L371.20,310.88 L372.50,300.78 L373.80,313.84 L375.10,305.64 L376.40,309.10 L377.70,316.63 L379.00,307.53 L380.30,312.49 L381.60,303.40 L382.90,314.15 L384.20,313.71 L385.50,307.06 L386.80,313.09 L388.10,301.38 L389.40,316.35 L390.70,311.24 L392.00,318.49 L393.30,325.59 L394.60,303.43 L395.90,318.91 L397.20,304.03 L398.50,324.73 L399.80,312.09 L401.10,321.61 L402.40,316.39 L403.70,307.94 L405.00,326.67 L406.30,327.42 L407.60,317.78 L408.90,327.50 L410.20,313.48 L411.50,326.20 L412.80,320.72 L414.10,321.94 L415.40,327.50 L416.70,317.31" stroke="#111" stroke-width="1.1" fill="none"/>
<path d="M244.50,294.95 L245.00,295.00 L245.50,295.05 L246.00,295.10 L246.50,295.16 L247.00,295.21 L247.50,295.26 L248.00,295.32 L248.50,295.37 L249.00,295.42 L249.50,295.48 L250.00,295.53 L250.50,295.59 L251.00,295.64 L251.50,295.70 L252.00,295.75 L252.50,295.80 L253.00,295.86 L253.50,295.92 L254.00,295.97 L254.50,296.03 L255.00,296.08 L255.50,296.14 L256.00,296.20 L256.50,296.25 L257.00,296.31 L257.50,296.36 L258.00,296.42 L258.50,296.48 L259.00,296.54 L259.50,296.59 L260.00,296.65 L260.50,296.71 L261.00,296.77 L261.50,296.83 L262.00,296.88 L262.50,296.94 L263.00,297.00 L263.50,297.06 L264.00,297.12 L264.50,297.18 L265.00,297.24 L265.50,297.30 L266.00,297.36 L266.50,297.42 L267.00,297.48 L267.50,297.54 L268.00,297.60 L268.50,297.66 L269.00,297.72 L269.50,297.78 L270.00,297.85 L270.50,297.91 L271.00,297.97 L271.50,298.03 L272.00,298.09 L272.50,298.16 L273.00,298.22 L273.50,298.28 L274.00,298.34 L274.50,298.41 L275.00,298.47 L275.50,298.53 L276.00,298.60 L276.50,298.66 L277.00,298.73 L277.50,298.79 L278.00,298.86 L278.50,298.92 L279.00,298.98 L279.50,299.05 L280.00,299.12 L280.50,299.18 L281.00,299.25 L281.50,299.31 L282.00,299.38 L282.50,299.44 L283.00,299.51 L283.50,299.58 L284.00,299.64 L284.50,299.71 L285.00,299.78 L285.50,299.84 L286.00,299.91 L286.50,299.98 L287.00,300.05 L287.50,300.12 L288.00,300.18 L288.50,300.25 L289.00,300.32 L289.50,300.39 L290.00,300.46 L290.50,300.53 L291.00,300.60 L291.50,300.67 L292.00,300.74 L292.50,300.81 L293.00,300.88 L293.50,300.95 L294.00,301.02 L294.50,301.09 L295.00,301.16 L295.50,301.23 L296.00,301.30 L296.50,301.37 L297.00,301.44 L297.50,301.51 L298.00,301.59 L298.50,301.66 L299.00,301.73 L299.50,301.80 L300.00,301.88 L300.50,301.95 L301.00,302.02 L301.50,302.10 L302.00,302.17 L302.50,302.24 L303.00,302.32 L303.50,302.39 L304.00,302.46 L304.50,302.54 L305.00,302.61 L305.50,302.69 L306.00,302.76 L306.50,302.84 L307.00,302.91 L307.50,302.99 L308.00,303.06 L308.50,303.14 L309.00,303.22 L309.50,303.29 L310.00,303.37 L310.50,303.45 L311.00,303.52 L311.50,303.60 L312.00,303.68 L312.50,303.75 L313.00,303.83 L313.50,303.91 L314.00,303.99 L314.50,304.06 L315.00,304.14 L315.50,304.22 L316.00,304.30 L316.50,304.38 L317.00,304.46 L317.50,304.54 L318.00,304.62 L318.50,304.70 L319.00,304.78 L319.50,304.86 L320.00,304.94 L320.50,305.02 L321.00,305.10 L321.50,305.18 L322.00,305.26 L322.50,305.34 L323.00,305.42 L323.50,305.50 L324.00,305.58 L324.50,305.66 L325.00,305.75 L325.50,305.83 L326.00,305.91 L326.50,305.99 L327.00,306.08 L327.50,306.16 L328.00,306.24 L328.50,306.33 L329.00,306.41 L329.50,306.49 L330.00,306.58 L330.50,306.66 L331.00,306.75 L331.50,306.83 L332.00,306.91 L332.50,307.00 L333.00,307.08 L333.50,307.17 L334.00,307.25 L334.50,307.34 L335.00,307.43 L335.50,307.51 L336.00,307.60 L336.50,307.68 L337.00,307.77 L337.50,307.86 L338.00,307.94 L338.50,308.03 L339.00,308.12 L339.50,308.21 L340.00,308.29 L340.50,308.38 L341.00,308.47 L341.50,308.56 L342.00,308.64 L342.50,308.73 L343.00,308.82 L343.50,308.91 L344.00,309.00 L344.50,309.09 L345.00,309.18 L345.50,309.27 L346.00,309.36 L346.50,309.45 L347.00,309.54 L347.50,309.63 L348.00,309.72 L348.50,309.81 L349.00,309.90 L349.50,309.99 L350.00,310.08 L350.50,310.17 L351.00,310.27 L351.50,310.36 L352.00,310.45 L352.50,310.54 L353.00,310.63 L353.50,310.73 L354.00,310.82 L354.50,310.91 L355.00,311.01 L355.50,311.10 L356.00,311.19 L356.50,311.29 L357.00,311.38 L357.50,311.47 L358.00,311.57 L358.50,311.66 L359.00,311.76 L359.50,311.85 L360.00,311.95 L360.50,312.04 L361.00,312.14 L361.50,312.23 L362.00,312.33 L362.50,312.43 L363.00,312.52 L363.50,312.62 L364.00,312.71 L364.50,312.81 L365.00,312.91 L365.50,313.01 L366.00,313.10 L366.50,313.20 L367.00,313.30 L367.50,313.40 L368.00,313.49 L368.50,313.59 L369.00,313.69 L369.50,313.79 L370.00,313.89 L370.50,313.99 L371.00,314.09 L371.50,314.18 L372.00,314.28 L372.50,314.38 L373.00,314.48 L373.50,314.58 L374.00,314.68 L374.50,314.78 L375.00,314.88 L375.50,314.99 L376.00,315.09 L376.50,315.19 L377.00,315.29 L377.50,315.39 L378.00,315.49 L378.50,315.59 L379.00,315.70 L379.50,315.80 L380.00,315.90 L380.50,316.00 L381.00,316.11 L381.50,316.21 L382.00,316.31 L382.50,316.42 L383.00,316.52 L383.50,316.62 L384.00,316.73 L384.50,316.83 L385.00,316.94 L385.50,317.04 L386.00,317.15 L386.50,317.25 L387.00,317.36 L387.50,317.46 L388.00,317.57 L388.50,317.67 L389.00,317.78 L389.50,317.88 L390.00,317.99 L390.50,318.10 L391.00,318.20 L391.50,318.31 L392.00,318.42 L392.50,318.52 L393.00,318.63 L393.50,318.74 L394.00,318.85 L394.50,318.95 L395.00,319.06 L395.50,319.17 L396.00,319.28 L396.50,319.39 L397.00,319.50 L397.50,319.60 L398.00,319.71 L398.50,319.82 L399.00,319.93 L399.50,320.04 L400.00,320.15 L400.50,320.26 L401.00,320.37 L401.50,320.48 L402.00,320.59 L402.50,320.70 L403.00,320.82 L403.50,320.93 L404.00,321.04 L404.50,321.15 L405.00,321.26 L405.50,321.37 L406.00,321.49 L406.50,321.60 L407.00,321.71 L407.50,321.82 L408.00,321.94 L408.50,322.05 L409.00,322.16 L409.50,322.28 L410.00,322.39 L410.50,322.50 L411.00,322.62 L411.50,322.73 L412.00,322.85 L412.50,322.96 L413.00,323.08 L413.50,323.19 L414.00,323.31 L414.50,323.42 L415.00,323.54 L415.50,323.65 L416.00,323.77 L416.50,323.88 L417.00,324.00 L417.50,324.12" stroke="#3040b0" stroke-width="1" fill="none"/>
<path d="M244.50,294.05 L245.00,294.10 L245.50,294.15 L246.00,294.20 L246.50,294.26 L247.00,294.31 L247.50,294.36 L248.00,294.42 L248.50,294.47 L249.00,294.52 L249.50,294.58 L250.00,294.63 L250.50,294.69 L251.00,294.74 L251.50,294.80 L252.00,294.85 L252.50,294.90 L253.00,294.96 L253.50,295.02 L254.00,295.07 L254.50,295.13 L255.00,295.18 L255.50,295.24 L256.00,295.30 L256.50,295.35 L257.00,295.41 L257.50,295.46 L258.00,295.52 L258.50,295.58 L259.00,295.64 L259.50,295.69 L260.00,295.75 L260.50,295.81 L261.00,295.87 L261.50,295.93 L262.00,295.98 L262.50,296.04 L263.00,296.10 L263.50,296.16 L264.00,296.22 L264.50,296.28 L265.00,296.34 L265.50,296.40 L266.00,296.46 L266.50,296.52 L267.00,296.58 L267.50,296.64 L268.00,296.70 L268.50,296.76 L269.00,296.82 L269.50,296.88 L270.00,296.95 L270.50,297.01 L271.00,297.07 L271.50,297.13 L272.00,297.19 L272.50,297.26 L273.00,297.32 L273.50,297.38 L274.00,297.44 L274.50,297.51 L275.00,297.57 L275.50,297.63 L276.00,297.70 L276.50,297.76 L277.00,297.83 L277.50,297.89 L278.00,297.96 L278.50,298.02 L279.00,298.08 L279.50,298.15 L280.00,298.22 L280.50,298.28 L281.00,298.35 L281.50,298.41 L282.00,298.48 L282.50,298.54 L283.00,298.61 L283.50,298.68 L284.00,298.74 L284.50,298.81 L285.00,298.88 L285.50,298.94 L286.00,299.01 L286.50,299.08 L287.00,299.15 L287.50,299.22 L288.00,299.28 L288.50,299.35 L289.00,299.42 L289.50,299.49 L290.00,299.56 L290.50,299.63 L291.00,299.70 L291.50,299.77 L292.00,299.84 L292.50,299.91 L293.00,299.98 L293.50,300.05 L294.00,300.12 L294.50,300.19 L295.00,300.26 L295.50,300.33 L296.00,300.40 L296.50,300.47 L297.00,300.54 L297.50,300.61 L298.00,300.69 L298.50,300.76 L299.00,300.83 L299.50,300.90 L300.00,300.98 L300.50,301.05 L301.00,301.12 L301.50,301.20 L302.00,301.27 L302.50,301.34 L303.00,301.42 L303.50,301.49 L304.00,301.56 L304.50,301.64 L305.00,301.71 L305.50,301.79 L306.00,301.86 L306.50,301.94 L307.00,302.01 L307.50,302.09 L308.00,302.16 L308.50,302.24 L309.00,302.32 L309.50,302.39 L310.00,302.47 L310.50,302.55 L311.00,302.62 L311.50,302.70 L312.00,302.78 L312.50,302.85 L313.00,302.93 L313.50,303.01 L314.00,303.09 L314.50,303.16 L315.00,303.24 L315.50,303.32 L316.00,303.40 L316.50,303.48 L317.00,303.56 L317.50,303.64 L318.00,303.72 L318.50,303.80 L319.00,303.88 L319.50,303.96 L320.00,304.04 L320.50,304.12 L321.00,304.20 L321.50,304.28 L322.00,304.36 L322.50,304.44 L323.00,304.52 L323.50,304.60 L324.00,304.68 L324.50,304.76 L325.00,304.85 L325.50,304.93 L326.00,305.01 L326.50,305.09 L327.00,305.18 L327.50,305.26 L328.00,305.34 L328.50,305.43 L329.00,305.51 L329.50,305.59 L330.00,305.68 L330.50,305.76 L331.00,305.85 L331.50,305.93 L332.00,306.01 L332.50,306.10 L333.00,306.18 L333.50,306.27 L334.00,306.35 L334.50,306.44 L335.00,306.53 L335.50,306.61 L336.00,306.70 L336.50,306.78 L337.00,306.87 L337.50,306.96 L338.00,307.04 L338.50,307.13 L339.00,307.22 L339.50,307.31 L340.00,307.39 L340.50,307.48 L341.00,307.57 L341.50,307.66 L342.00,307.74 L342.50,307.83 L343.00,307.92 L343.50,308.01 L344.00,308.10 L344.50,308.19 L345.00,308.28 L345.50,308.37" stroke="#40a060" stroke-width="0.8" fill="none"/>
<path d="M300.50,301.75 L301.00,301.82 L301.50,301.90 L302.00,301.97 L302.50,302.04 L303.00,302.12 L303.50,302.19 L304.00,302.26 L304.50,302.34 L305.00,302.41 L305.50,302.49 L306.00,302.56 L306.50,302.64 L307.00,302.71 L307.50,302.79 L308.00,302.86 L308.50,302.94 L309.00,303.02 L309.50,303.09 L310.00,303.17 L310.50,303.25 L311.00,303.32 L311.50,303.40 L312.00,303.48 L312.50,303.55 L313.00,303.63 L313.50,303.71 L314.00,303.79 L314.50,303.86 L315.00,303.94 L315.50,304.02 L316.00,304.10 L316.50,304.18 L317.00,304.26 L317.50,304.34 L318.00,304.42 L318.50,304.50 L319.00,304.58 L319.50,304.66 L320.00,304.74 L320.50,304.82 L321.00,304.90 L321.50,304.98 L322.00,305.06 L322.50,305.14 L323.00,305.22 L323.50,305.30 L324.00,305.38 L324.50,305.46 L325.00,305.55 L325.50,305.63 L326.00,305.71 L326.50,305.79 L327.00,305.88 L327.50,305.96 L328.00,306.04 L328.50,306.13 L329.00,306.21 L329.50,306.29 L330.00,306.38 L330.50,306.46 L331.00,306.55 L331.50,306.63 L332.00,306.71 L332.50,306.80 L333.00,306.88 L333.50,306.97 L334.00,307.05 L334.50,307.14 L335.00,307.23 L335.50,307.31 L336.00,307.40 L336.50,307.48 L337.00,307.57 L337.50,307.66 L338.00,307.74 L338.50,307.83 L339.00,307.92 L339.50,308.01 L340.00,308.09 L340.50,308.18 L341.00,308.27 L341.50,308.36 L342.00,308.44 L342.50,308.53 L343.00,308.62 L343.50,308.71 L344.00,308.80 L344.50,308.89 L345.00,308.98 L345.50,309.07 L346.00,309.16 L346.50,309.25 L347.00,309.34 L347.50,309.43 L348.00,309.52 L348.50,309.61 L349.00,309.70 L349.50,309.79 L350.00,309.88 L350.50,309.97 L351.00,310.07 L351.50,310.16 L352.00,310.25 L352.50,310.34 L353.00,310.43 L353.50,310.53 L354.00,310.62 L354.50,310.71 L355.00,310.81 L355.50,310.90 L356.00,310.99 L356.50,311.09 L357.00,311.18 L357.50,311.27 L358.00,311.37 L358.50,311.46 L359.00,311.56 L359.50,311.65 L360.00,311.75 L360.50,311.84 L361.00,311.94 L361.50,312.03 L362.00,312.13 L362.50,312.23 L363.00,312.32 L363.50,312.42 L364.00,312.51 L364.50,312.61 L365.00,312.71 L365.50,312.81 L366.00,312.90 L366.50,313.00 L367.00,313.10 L367.50,313.20 L368.00,313.29 L368.50,313.39 L369.00,313.49 L369.50,313.59 L370.00,313.69 L370.50,313.79 L371.00,313.89 L371.50,313.98 L372.00,314.08 L372.50,314.18 L373.00,314.28 L373.50,314.38 L374.00,314.48 L374.50,314.58 L375.00,314.68 L375.50,314.79 L376.00,314.89 L376.50,314.99 L377.00,315.09 L377.50,315.19 L378.00,315.29 L378.50,315.39 L379.00,315.50 L379.50,315.60 L380.00,315.70 L380.50,315.80 L381.00,315.91 L381.50,316.01 L382.00,316.11 L382.50,316.22 L383.00,316.32 L383.50,316.42 L384.00,316.53 L384.50,316.63 L385.00,316.74 L385.50,316.84 L386.00,316.95 L386.50,317.05 L387.00,317.16 L387.50,317.26 L388.00,317.37 L388.50,317.47 L389.00,317.58 L389.50,317.68 L390.00,317.79 L390.50,317.90 L391.00,318.00 L391.50,318.11 L392.00,318.22 L392.50,318.32 L393.00,318.43 L393.50,318.54 L394.00,318.65 L394.50,318.75 L395.00,318.86 L395.50,318.97 L396.00,319.08 L396.50,319.19 L397.00,319.30 L397.50,319.40 L398.00,319.51 L398.50,319.62 L399.00,319.73 L399.50,319.84 L400.00,319.95 L400.50,320.06 L401.00,320.17 L401.50,320.28 L402.00,320.39 L402.50,320.50 L403.00,320.62 L403.50,320.73 L404.00,320.84 L404.50,320.95 L405.00,321.06 L405.50,321.17 L406.00,321.29 L406.50,321.40 L407.00,321.51 L407.50,321.62 L408.00,321.74 L408.50,321.85 L409.00,321.96 L409.50,322.08 L410.00,322.19 L410.50,322.30 L411.00,322.42 L411.50,322.53 L412.00,322.65 L412.50,322.76 L413.00,322.88 L413.50,322.99 L414.00,323.11 L414.50,323.22 L415.00,323.34 L415.50,323.45 L416.00,323.57 L416.50,323.68 L417.00,323.80 L417.50,323.92" stroke="#a040c0" stroke-width="0.9" fill="none"/>
<path d="M244.50,291.35 L245.00,291.25 L245.50,291.13 L246.00,290.99 L246.50,290.85 L247.00,290.69 L247.50,290.52 L248.00,290.34 L248.50,290.14 L249.00,289.92 L249.50,289.68 L250.00,289.43 L250.50,289.16 L251.00,288.87 L251.50,288.56 L252.00,288.22 L252.50,287.87 L253.00,287.49 L253.50,287.09 L254.00,286.67 L254.50,286.22 L255.00,285.75 L255.50,285.26 L256.00,284.74 L256.50,284.20 L257.00,283.63 L257.50,283.04 L258.00,282.42 L258.50,281.78 L259.00,281.12 L259.50,280.44 L260.00,279.74 L260.50,279.02 L261.00,278.28 L261.50,277.53 L262.00,276.76 L262.50,275.98 L263.00,275.19 L263.50,274.40 L264.00,273.60 L264.50,272.81 L265.00,272.02 L265.50,271.23 L266.00,270.46 L266.50,269.71 L267.00,268.98 L267.50,268.28 L268.00,267.61 L268.50,266.98 L269.00,266.39 L269.50,265.86 L270.00,265.38 L270.50,264.96 L271.00,264.61 L271.50,264.33 L272.00,264.12 L272.50,263.99 L273.00,263.95 L273.50,263.98 L274.00,264.10 L274.50,264.30 L275.00,264.57 L275.50,264.93 L276.00,265.35 L276.50,265.85 L277.00,266.41 L277.50,267.03 L278.00,267.71 L278.50,268.43 L279.00,269.19 L279.50,270.00 L280.00,270.83 L280.50,271.69 L281.00,272.56 L281.50,273.46 L282.00,274.36 L282.50,275.27 L283.00,276.19 L283.50,277.10 L284.00,278.01 L284.50,278.91 L285.00,279.80 L285.50,280.68 L286.00,281.55 L286.50,282.40 L287.00,283.23 L287.50,284.04 L288.00,284.83 L288.50,285.59 L289.00,286.34 L289.50,287.06 L290.00,287.76 L290.50,288.43 L291.00,289.08 L291.50,289.71 L292.00,290.31 L292.50,290.89 L293.00,291.44 L293.50,291.97 L294.00,292.47 L294.50,292.96 L295.00,293.42 L295.50,293.85 L296.00,294.27 L296.50,294.67 L297.00,295.05 L297.50,295.41 L298.00,295.75 L298.50,296.07 L299.00,296.38 L299.50,296.67 L300.00,296.95 L300.50,297.21 L301.00,297.46 L301.50,297.70 L302.00,297.92 L302.50,298.14 L303.00,298.34 L303.50,298.54 L304.00,298.72 L304.50,298.90 L305.00,299.07 L305.50,299.23 L306.00,299.38 L306.50,299.53 L307.00,299.67 L307.50,299.81 L308.00,299.94 L308.50,300.06 L309.00,300.19 L309.50,300.30 L310.00,300.41 L310.50,300.52 L311.00,300.62 L311.50,300.72 L312.00,300.82 L312.50,300.91 L313.00,301.00 L313.50,301.08 L314.00,301.16 L314.50,301.24 L315.00,301.31 L315.50,301.38 L316.00,301.44 L316.50,301.50 L317.00,301.55 L317.50,301.59 L318.00,301.63 L318.50,301.66 L319.00,301.68 L319.50,301.69 L320.00,301.69 L320.50,301.69 L321.00,301.67 L321.50,301.63 L322.00,301.58 L322.50,301.52 L323.00,301.43 L323.50,301.33 L324.00,301.21 L324.50,301.06 L325.00,300.89 L325.50,300.69 L326.00,300.45 L326.50,300.19 L327.00,299.89 L327.50,299.56 L328.00,299.18 L328.50,298.76 L329.00,298.30 L329.50,297.79 L330.00,297.23 L330.50,296.61 L331.00,295.94 L331.50,295.20 L332.00,294.41 L332.50,293.56 L333.00,292.64 L333.50,291.65 L334.00,290.60 L334.50,289.48 L335.00,288.29 L335.50,287.03" stroke="#e0307a" stroke-width="1.1" fill="none"/>
<path d="M335.00,288.29 L335.50,287.03 L336.00,285.71 L336.50,284.31 L337.00,282.86 L337.50,281.33 L338.00,279.75 L338.50,278.11 L339.00,276.41 L339.50,274.67 L340.00,272.88 L340.50,271.06 L341.00,269.20 L341.50,267.32 L342.00,265.43 L342.50,263.52 L343.00,261.62 L343.50,259.74 L344.00,257.87 L344.50,256.04 L345.00,254.25 L345.50,252.52 L346.00,250.86 L346.50,249.27 L347.00,247.78 L347.50,246.40 L348.00,245.13 L348.50,243.99 L349.00,242.99 L349.50,242.14 L350.00,241.45 L350.50,240.93 L351.00,240.57 L351.50,240.40 L352.00,240.41 L352.50,240.60 L353.00,240.96 L353.50,241.51 L354.00,242.23 L354.50,243.12 L355.00,244.16 L355.50,245.36 L356.00,246.69 L356.50,248.16 L357.00,249.74 L357.50,251.42 L358.00,253.20 L358.50,255.06 L359.00,256.99 L359.50,258.97 L360.00,261.00 L360.50,263.06 L361.00,265.14 L361.50,267.24 L362.00,269.34 L362.50,271.43 L363.00,273.50 L363.50,275.56 L364.00,277.58 L364.50,279.56 L365.00,281.50 L365.50,283.40 L366.00,285.23 L366.50,287.02 L367.00,288.74 L367.50,290.39 L368.00,291.98 L368.50,293.51 L369.00,294.96 L369.50,296.35 L370.00,297.67 L370.50,298.92 L371.00,300.11 L371.50,301.22 L372.00,302.28 L372.50,303.27 L373.00,304.20 L373.50,305.07 L374.00,305.89 L374.50,306.66 L375.00,307.37 L375.50,308.03 L376.00,308.66 L376.50,309.23 L377.00,309.77 L377.50,310.27 L378.00,310.74 L378.50,311.17 L379.00,311.58 L379.50,311.96 L380.00,312.31 L380.50,312.64 L381.00,312.95 L381.50,313.24 L382.00,313.51 L382.50,313.77 L383.00,314.01 L383.50,314.24 L384.00,314.46 L384.50,314.67 L385.00,314.87 L385.50,315.06 L386.00,315.25 L386.50,315.42 L387.00,315.59 L387.50,315.76 L388.00,315.92 L388.50,316.08 L389.00,316.23 L389.50,316.38 L390.00,316.53 L390.50,316.68 L391.00,316.82 L391.50,316.96 L392.00,317.10 L392.50,317.24 L393.00,317.38 L393.50,317.51 L394.00,317.64 L394.50,317.78 L395.00,317.91 L395.50,318.04 L396.00,318.17 L396.50,318.30 L397.00,318.43 L397.50,318.56 L398.00,318.69 L398.50,318.82 L399.00,318.95 L399.50,319.07 L400.00,319.20 L400.50,319.33 L401.00,319.45 L401.50,319.58 L402.00,319.70 L402.50,319.83 L403.00,319.96 L403.50,320.08 L404.00,320.21 L404.50,320.33 L405.00,320.46 L405.50,320.58 L406.00,320.70 L406.50,320.83 L407.00,320.95 L407.50,321.08 L408.00,321.20 L408.50,321.33 L409.00,321.45 L409.50,321.57 L410.00,321.70 L410.50,321.82 L411.00,321.94 L411.50,322.07 L412.00,322.19 L412.50,322.32 L413.00,322.44 L413.50,322.56 L414.00,322.69 L414.50,322.81 L415.00,322.93 L415.50,323.06 L416.00,323.18 L416.50,323.31 L417.00,323.43 L417.50,323.55" stroke="#d84030" stroke-width="0.8" fill="none"/>
<path d="M318.50,302.94 L319.00,302.93 L319.50,302.92 L320.00,302.90 L320.50,302.86 L321.00,302.82 L321.50,302.76 L322.00,302.69 L322.50,302.61 L323.00,302.50 L323.50,302.38 L324.00,302.24 L324.50,302.07 L325.00,301.88 L325.50,301.66 L326.00,301.41 L326.50,301.13 L327.00,300.82 L327.50,300.47 L328.00,300.07 L328.50,299.64 L329.00,299.16 L329.50,298.64 L330.00,298.06 L330.50,297.43 L331.00,296.74 L331.50,296.00 L332.00,295.19 L332.50,294.33 L333.00,293.39 L333.50,292.40 L334.00,291.33 L334.50,290.20 L335.00,289.00 L335.50,287.73 L336.00,286.40 L336.50,284.99 L337.00,283.52 L337.50,281.99 L338.00,280.40 L338.50,278.75 L339.00,277.04 L339.50,275.29 L340.00,273.49 L340.50,271.66 L341.00,269.79 L341.50,267.91 L342.00,266.00 L342.50,264.09 L343.00,262.18 L343.50,260.29 L344.00,258.42 L344.50,256.58 L345.00,254.78 L345.50,253.04 L346.00,251.37 L346.50,249.78 L347.00,248.29 L347.50,246.89 L348.00,245.62 L348.50,244.47 L349.00,243.47 L349.50,242.61 L350.00,241.92 L350.50,241.39 L351.00,241.03 L351.50,240.85 L352.00,240.85 L352.50,241.03 L353.00,241.40 L353.50,241.94 L354.00,242.65 L354.50,243.53 L355.00,244.57 L355.50,245.76 L356.00,247.09 L356.50,248.55 L357.00,250.13 L357.50,251.81 L358.00,253.58 L358.50,255.44 L359.00,257.36 L359.50,259.34 L360.00,261.36 L360.50,263.42 L361.00,265.50 L361.50,267.59 L362.00,269.69 L362.50,271.78 L363.00,273.85 L363.50,275.90 L364.00,277.91 L364.50,279.90 L365.00,281.83 L365.50,283.72 L366.00,285.56 L366.50,287.33 L367.00,289.05 L367.50,290.70 L368.00,292.29 L368.50,293.81 L369.00,295.27 L369.50,296.65 L370.00,297.97 L370.50,299.22 L371.00,300.40 L371.50,301.51 L372.00,302.56 L372.50,303.55 L373.00,304.48 L373.50,305.35 L374.00,306.17 L374.50,306.93 L375.00,307.64 L375.50,308.30 L376.00,308.92 L376.50,309.49 L377.00,310.03 L377.50,310.53 L378.00,310.99 L378.50,311.43 L379.00,311.83 L379.50,312.20 L380.00,312.55 L380.50,312.88 L381.00,313.19 L381.50,313.48 L382.00,313.75 L382.50,314.00 L383.00,314.24 L383.50,314.47 L384.00,314.69 L384.50,314.90 L385.00,315.09 L385.50,315.28 L386.00,315.46 L386.50,315.64 L387.00,315.81 L387.50,315.97 L388.00,316.13 L388.50,316.29 L389.00,316.44 L389.50,316.59 L390.00,316.74 L390.50,316.88 L391.00,317.02 L391.50,317.16 L392.00,317.30 L392.50,317.43 L393.00,317.57 L393.50,317.70 L394.00,317.84 L394.50,317.97 L395.00,318.10 L395.50,318.23 L396.00,318.36 L396.50,318.49 L397.00,318.61 L397.50,318.74 L398.00,318.87 L398.50,319.00 L399.00,319.12 L399.50,319.25 L400.00,319.37 L400.50,319.50 L401.00,319.62 L401.50,319.75 L402.00,319.87 L402.50,320.00 L403.00,320.12 L403.50,320.25 L404.00,320.37 L404.50,320.49 L405.00,320.62 L405.50,320.74 L406.00,320.86 L406.50,320.99 L407.00,321.11 L407.50,321.23 L408.00,321.36 L408.50,321.48 L409.00,321.60 L409.50,321.72 L410.00,321.85 L410.50,321.97 L411.00,322.09 L411.50,322.21 L412.00,322.34 L412.50,322.46 L413.00,322.58 L413.50,322.71 L414.00,322.83 L414.50,322.95 L415.00,323.07 L415.50,323.20 L416.00,323.32 L416.50,323.44 L417.00,323.56 L417.50,323.69" stroke="#40a040" stroke-width="0.9" fill="none"/>
<rect x="244.5" y="202.5" width="173.0" height="128.0" fill="none" stroke="#555" stroke-width="1"/>
<path d="M260.23,330.5 v2.5 M279.89,330.5 v1.3 M299.55,330.5 v2.5 M319.20,330.5 v1.3 M338.86,330.5 v2.5 M358.52,330.5 v1.3 M378.18,330.5 v2.5 M397.84,330.5 v1.3 M417.50,330.5 v2.5 " stroke="#555" stroke-width="0.9" fill="none"/>
<text transform="translate(141.37,43.56) scale(0.09200,0.10000)" font-family="Liberation Sans" font-weight="bold" font-size="119.40" letter-spacing="2.240" fill="#111" stroke="#111" stroke-width="1.5" xml:space="preserve">POM [Fe]</text>
<text transform="translate(338.96,43.56) scale(0.09200,0.10000)" font-family="Liberation Sans" font-weight="bold" font-size="119.40" letter-spacing="1.630" fill="#111" stroke="#111" stroke-width="1.5" xml:space="preserve">POM [Cr]</text>
<text transform="translate(81.09,192.76) scale(0.09200,0.10000)" font-family="Liberation Sans" font-weight="bold" font-size="122.24" letter-spacing="2.180" fill="#111" stroke="#111" stroke-width="1.5" xml:space="preserve">Wavelength(nm)</text>
<text transform="translate(287.39,193.15) scale(0.09200,0.10000)" font-family="Liberation Sans" font-weight="bold" font-size="117.71" letter-spacing="4.110" fill="#111" stroke="#111" stroke-width="1.5" xml:space="preserve">Wavelength(nm)</text>
<text transform="translate(30.08,126.29) rotate(-90) scale(0.09200,0.10000)" font-family="Liberation Sans" font-weight="bold" font-size="128.46" letter-spacing="-1.460" fill="#111" stroke="#111" stroke-width="1.5" xml:space="preserve">Absorbance</text>
<text transform="translate(235.68,126.39) rotate(-90) scale(0.09200,0.10000)" font-family="Liberation Sans" font-weight="bold" font-size="127.02" letter-spacing="-0.900" fill="#111" stroke="#111" stroke-width="1.5" xml:space="preserve">Absorbance</text>
<text transform="translate(31.32,303.55) rotate(-90) scale(0.09200,0.10000)" font-family="Liberation Sans" font-weight="bold" font-size="121.68" letter-spacing="-2.950" fill="#111" stroke="#111" stroke-width="1.5" xml:space="preserve">Intensity (a.u.)</text>
<text transform="translate(236.69,298.93) rotate(-90) scale(0.09200,0.10000)" font-family="Liberation Sans" font-weight="bold" font-size="118.27" letter-spacing="-1.000" fill="#111" stroke="#111" stroke-width="1.5" xml:space="preserve">Intensity (a.u.)</text>
<text transform="translate(14.00,24.90) scale(0.10000,0.10000)" font-family="Liberation Serif" font-size="160.00" letter-spacing="5.000" fill="#111" stroke="#111" stroke-width="1.5" xml:space="preserve">(a)</text>
<text transform="translate(220.10,25.10) scale(0.10000,0.10000)" font-family="Liberation Serif" font-size="160.00" letter-spacing="3.700" fill="#111" stroke="#111" stroke-width="1.5" xml:space="preserve">(b)</text>
<text transform="translate(15.10,195.70) scale(0.10000,0.10000)" font-family="Liberation Serif" font-size="160.00" letter-spacing="1.700" fill="#111" stroke="#111" stroke-width="1.5" xml:space="preserve">(c)</text>
<text transform="translate(219.90,195.60) scale(0.10000,0.10000)" font-family="Liberation Serif" font-size="160.00" letter-spacing="3.700" fill="#111" stroke="#111" stroke-width="1.5" xml:space="preserve">(d)</text>
<text transform="translate(42.59,216.31) scale(0.09200,0.10000)" font-family="Liberation Sans" font-weight="bold" font-size="147.46" letter-spacing="4.160" fill="#111" xml:space="preserve">Fe 2p</text>
<text transform="translate(247.34,217.47) scale(0.09200,0.10000)" font-family="Liberation Sans" font-weight="bold" font-size="149.80" letter-spacing="2.730" fill="#111" xml:space="preserve">Cr 2p</text>
<text transform="translate(63.82,235.85) scale(0.09200,0.10000)" font-family="Liberation Sans" font-weight="bold" font-size="110.01" letter-spacing="3.420" fill="#111" stroke="#111" stroke-width="1.5" xml:space="preserve">Fe 2p</text>
<text transform="translate(91.65,238.62) scale(0.09200,0.10000)" font-family="Liberation Sans" font-weight="bold" font-size="95.38" letter-spacing="13.620" fill="#111" stroke="#111" stroke-width="1.5" xml:space="preserve">1/2</text>
<text transform="translate(64.06,251.60) scale(0.09200,0.10000)" font-family="Liberation Sans" font-weight="bold" font-size="110.79" letter-spacing="2.180" fill="#111" stroke="#111" stroke-width="1.5" xml:space="preserve">724.4 eV</text>
<text transform="translate(147.29,213.73) scale(0.09200,0.10000)" font-family="Liberation Sans" font-weight="bold" font-size="115.86" letter-spacing="1.120" fill="#111" stroke="#111" stroke-width="1.5" xml:space="preserve">Fe 2p</text>
<text transform="translate(176.01,215.63) scale(0.09200,0.10000)" font-family="Liberation Sans" font-weight="bold" font-size="91.11" letter-spacing="14.540" fill="#111" stroke="#111" stroke-width="1.5" xml:space="preserve">3/2</text>
<text transform="translate(147.53,229.59) scale(0.09200,0.10000)" font-family="Liberation Sans" font-weight="bold" font-size="118.28" letter-spacing="-1.270" fill="#111" stroke="#111" stroke-width="1.5" xml:space="preserve">711.2 eV</text>
<text transform="translate(113.62,257.70) scale(0.09200,0.10000)" font-family="Liberation Sans" font-weight="bold" font-size="106.30" letter-spacing="4.060" fill="#111" stroke="#111" stroke-width="1.5" xml:space="preserve">Sat.</text>
<text transform="translate(256.26,240.33) scale(0.09200,0.10000)" font-family="Liberation Sans" font-weight="bold" font-size="115.86" letter-spacing="0.350" fill="#111" stroke="#111" stroke-width="1.5" xml:space="preserve">Cr 2p</text>
<text transform="translate(284.10,242.87) scale(0.09200,0.10000)" font-family="Liberation Sans" font-weight="bold" font-size="69.75" letter-spacing="2.940" fill="#111" stroke="#111" stroke-width="1.5" xml:space="preserve">1/2</text>
<text transform="translate(256.38,255.80) scale(0.09200,0.10000)" font-family="Liberation Sans" font-weight="bold" font-size="112.29" letter-spacing="2.260" fill="#111" stroke="#111" stroke-width="1.5" xml:space="preserve">588.2  eV</text>
<text transform="translate(328.26,219.33) scale(0.09200,0.10000)" font-family="Liberation Sans" font-weight="bold" font-size="115.86" letter-spacing="0.350" fill="#111" stroke="#111" stroke-width="1.5" xml:space="preserve">Cr 2p</text>
<text transform="translate(356.05,222.06) scale(0.09200,0.10000)" font-family="Liberation Sans" font-weight="bold" font-size="72.60" letter-spacing="5.090" fill="#111" stroke="#111" stroke-width="1.5" xml:space="preserve">3/2</text>
<text transform="translate(328.38,234.80) scale(0.09200,0.10000)" font-family="Liberation Sans" font-weight="bold" font-size="112.29" letter-spacing="2.260" fill="#111" stroke="#111" stroke-width="1.5" xml:space="preserve">578.4  eV</text>
<text transform="translate(71.44,351.61) scale(0.09200,0.10000)" font-family="Liberation Sans" font-weight="bold" font-size="107.72" letter-spacing="4.200" fill="#111" stroke="#111" stroke-width="1.5" xml:space="preserve">Binding Energy (eV)</text>
<text transform="translate(272.11,354.66) scale(0.09200,0.10000)" font-family="Liberation Sans" font-weight="bold" font-size="112.05" letter-spacing="2.220" fill="#111" stroke="#111" stroke-width="1.5" xml:space="preserve">Binding Energry (eV)</text>
<text transform="translate(48.57,175.92) scale(0.09200,0.10000)" font-family="Liberation Sans" font-weight="bold" font-size="91.33" letter-spacing="7.570" fill="#111" stroke="#111" stroke-width="1.5">300</text>
<text transform="translate(79.33,175.92) scale(0.09200,0.10000)" font-family="Liberation Sans" font-weight="bold" font-size="91.33" letter-spacing="7.570" fill="#111" stroke="#111" stroke-width="1.5">400</text>
<text transform="translate(109.99,175.92) scale(0.09200,0.10000)" font-family="Liberation Sans" font-weight="bold" font-size="91.33" letter-spacing="7.570" fill="#111" stroke="#111" stroke-width="1.5">500</text>
<text transform="translate(140.69,175.92) scale(0.09200,0.10000)" font-family="Liberation Sans" font-weight="bold" font-size="91.33" letter-spacing="7.570" fill="#111" stroke="#111" stroke-width="1.5">600</text>
<text transform="translate(171.39,175.92) scale(0.09200,0.10000)" font-family="Liberation Sans" font-weight="bold" font-size="91.33" letter-spacing="7.570" fill="#111" stroke="#111" stroke-width="1.5">700</text>
<text transform="translate(202.17,175.92) scale(0.09200,0.10000)" font-family="Liberation Sans" font-weight="bold" font-size="91.33" letter-spacing="7.570" fill="#111" stroke="#111" stroke-width="1.5">800</text>

<text transform="translate(254.95,176.42) scale(0.09200,0.10000)" font-family="Liberation Sans" font-weight="bold" font-size="91.33" letter-spacing="3.770" fill="#111" stroke="#111" stroke-width="1.5">300</text>
<text transform="translate(285.71,176.42) scale(0.09200,0.10000)" font-family="Liberation Sans" font-weight="bold" font-size="91.33" letter-spacing="3.770" fill="#111" stroke="#111" stroke-width="1.5">400</text>
<text transform="translate(316.37,176.42) scale(0.09200,0.10000)" font-family="Liberation Sans" font-weight="bold" font-size="91.33" letter-spacing="3.770" fill="#111" stroke="#111" stroke-width="1.5">500</text>
<text transform="translate(347.07,176.42) scale(0.09200,0.10000)" font-family="Liberation Sans" font-weight="bold" font-size="91.33" letter-spacing="3.770" fill="#111" stroke="#111" stroke-width="1.5">600</text>
<text transform="translate(377.77,176.42) scale(0.09200,0.10000)" font-family="Liberation Sans" font-weight="bold" font-size="91.33" letter-spacing="3.770" fill="#111" stroke="#111" stroke-width="1.5">700</text>
<text transform="translate(408.55,176.42) scale(0.09200,0.10000)" font-family="Liberation Sans" font-weight="bold" font-size="91.33" letter-spacing="3.770" fill="#111" stroke="#111" stroke-width="1.5">800</text>

<text transform="translate(31.90,339.22) scale(0.09200,0.10000)" font-family="Liberation Sans" font-weight="bold" font-size="86.84" letter-spacing="3.460" fill="#111" stroke="#111" stroke-width="1.5">730</text>
<text transform="translate(65.84,339.22) scale(0.09200,0.10000)" font-family="Liberation Sans" font-weight="bold" font-size="86.84" letter-spacing="3.460" fill="#111" stroke="#111" stroke-width="1.5">725</text>
<text transform="translate(99.90,339.22) scale(0.09200,0.10000)" font-family="Liberation Sans" font-weight="bold" font-size="86.84" letter-spacing="3.460" fill="#111" stroke="#111" stroke-width="1.5">720</text>
<text transform="translate(133.84,339.22) scale(0.09200,0.10000)" font-family="Liberation Sans" font-weight="bold" font-size="86.84" letter-spacing="3.460" fill="#111" stroke="#111" stroke-width="1.5">715</text>
<text transform="translate(167.90,339.22) scale(0.09200,0.10000)" font-family="Liberation Sans" font-weight="bold" font-size="86.84" letter-spacing="3.460" fill="#111" stroke="#111" stroke-width="1.5">710</text>
<text transform="translate(201.84,339.22) scale(0.09200,0.10000)" font-family="Liberation Sans" font-weight="bold" font-size="86.84" letter-spacing="3.460" fill="#111" stroke="#111" stroke-width="1.5">705</text>

<text transform="translate(252.72,341.52) scale(0.09200,0.10000)" font-family="Liberation Sans" font-weight="bold" font-size="91.33" letter-spacing="-0.630" fill="#111" stroke="#111" stroke-width="1.5">590</text>
<text transform="translate(291.98,341.52) scale(0.09200,0.10000)" font-family="Liberation Sans" font-weight="bold" font-size="91.33" letter-spacing="-0.630" fill="#111" stroke="#111" stroke-width="1.5">585</text>
<text transform="translate(331.35,341.52) scale(0.09200,0.10000)" font-family="Liberation Sans" font-weight="bold" font-size="91.33" letter-spacing="-0.630" fill="#111" stroke="#111" stroke-width="1.5">580</text>
<text transform="translate(370.61,341.52) scale(0.09200,0.10000)" font-family="Liberation Sans" font-weight="bold" font-size="91.33" letter-spacing="-0.630" fill="#111" stroke="#111" stroke-width="1.5">575</text>
<text transform="translate(409.99,341.52) scale(0.09200,0.10000)" font-family="Liberation Sans" font-weight="bold" font-size="91.33" letter-spacing="-0.630" fill="#111" stroke="#111" stroke-width="1.5">570</text>

</svg></body></html>
